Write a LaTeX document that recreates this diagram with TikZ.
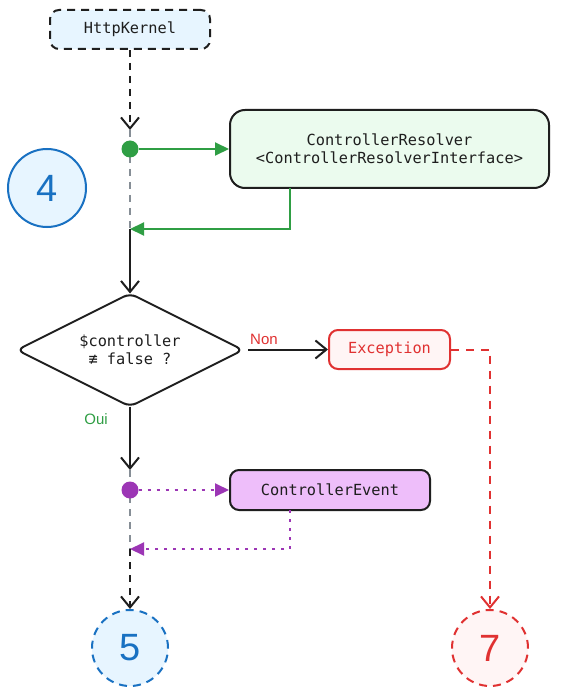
\documentclass[tikz,border=0pt]{standalone}
\usepackage{fontspec}
\setmainfont{Liberation Sans}
\newfontfamily\codefont{DejaVu Sans Mono}
\newfontfamily\digitfont{Liberation Sans}
\usetikzlibrary{arrows.meta,shapes.geometric}
\definecolor{kblue}{HTML}{1971C2}
\definecolor{kbluef}{HTML}{E7F5FF}
\definecolor{kgreen}{HTML}{2F9E44}
\definecolor{kgreenf}{HTML}{EBFBEE}
\definecolor{kred}{HTML}{E03131}
\definecolor{kredf}{HTML}{FFF5F5}
\definecolor{kpurple}{HTML}{9C36B5}
\definecolor{kpurplef}{HTML}{EEBEFA}
\definecolor{kink}{HTML}{1E1E1E}
\definecolor{kgray}{HTML}{868E96}
\tikzset{
  box/.style={draw=kink, line width=2pt, rounded corners=9pt, font=\codefont\fontsize{15.3}{18}\selectfont, text=kink, align=center},
  bigdigit/.style={circle, line width=2pt, minimum size=78pt, font=\digitfont\fontsize{38}{38}\selectfont},
  openarr/.style={-{Straight Barb[length=11pt,width=18pt,line width=2pt]}},
  fillarr/.style={-{Triangle[length=14pt,width=13pt]}},
  spine/.style={draw=kgray, line width=2pt, dash pattern=on 7pt off 6pt},
  dotnode/.style={circle, minimum size=17pt, inner sep=0pt},
  lbl/.style={font=\fontsize{15}{17}\selectfont},
  conn/.style={line width=2pt}
}
\begin{document}
\begin{tikzpicture}[x=1pt,y=-1pt]
\useasboundingbox[fill=white] (0,0) rectangle (560,700);

% nodes
\node[box, fill=kbluef, dash pattern=on 8pt off 6pt, minimum width=160pt, minimum height=39pt] (hk) at (130,29.5) {HttpKernel};
\node[box, fill=kgreenf, rounded corners=15pt, minimum width=319pt, minimum height=78pt] (cr) at (389.5,149) {ControllerResolver\\<ControllerResolverInterface>};
\node[bigdigit, draw=kblue, fill=kbluef, text=kblue] (c4) at (47,188) {4};
\node[diamond, aspect=2, draw=kink, line width=2pt, rounded corners=7pt, fill=white, minimum width=226pt, minimum height=113pt, inner sep=0pt, outer sep=0pt, font=\codefont\fontsize{15.3}{18}\selectfont, align=center, text=kink] (dia) at (130,350) {\$controller\\≢ false ?};
\node[box, draw=kred, fill=kredf, text=kred, minimum width=121pt, minimum height=39pt] (exc) at (389.5,349.5) {Exception};
\node[box, fill=kpurplef, minimum width=200pt, minimum height=40pt] (ce) at (330,490) {ControllerEvent};
\node[bigdigit, draw=kblue, fill=kbluef, text=kblue, dash pattern=on 8pt off 6pt, minimum size=76pt] (c5) at (130,648) {5};
\node[bigdigit, draw=kred, fill=kredf, text=kred, dash pattern=on 8pt off 6pt, minimum size=76pt] (c7) at (490,648) {7};

% coordinates on the spine
\coordinate (s1) at (130,130);
\coordinate (s2) at (130,229);
\coordinate (s3) at (130,470);
\coordinate (s4) at (130,549);
\coordinate (crb) at (290,188);
\coordinate (ceb) at (290,510);
\coordinate (ecorner) at (490,349.5);
\coordinate (de) at (248,349.5);

% spines
\draw[spine] (s1) -- (s2);
\draw[spine] (s3) -- (s4);

% dots
\node[dotnode, fill=kgreen] (gdot) at (130,149) {};
\node[dotnode, fill=kpurple] (pdot) at (130,490) {};

% connectors
\draw[kink, conn, dash pattern=on 7pt off 6pt, openarr] (hk.south) -- (s1);
\draw[kgreen, conn, fillarr] (gdot) -- (cr.west);
\draw[kgreen, conn, fillarr] (crb) |- (s2);
\draw[kink, conn, openarr] (s2) -- (dia.north);
\draw[kink, conn, openarr] (de) -- (exc.west);
\node[text=kred, lbl] (non) at (264,339) {Non};
\draw[kred, conn, dash pattern=on 8pt off 7pt, openarr] (exc.east) -- (ecorner) -- (c7.north);
\draw[kink, conn, openarr] (dia.south) -- (s3);
\node[text=kgreen, lbl] (oui) at (96,419) {Oui};
\draw[kpurple, conn, dash pattern=on 3pt off 6pt, fillarr] (pdot) -- (ce.west);
\draw[kpurple, conn, dash pattern=on 3pt off 6pt, fillarr] (ceb) |- (s4);
\draw[kink, conn, dash pattern=on 7pt off 6pt, openarr] (s4) -- (c5.north);
\end{tikzpicture}
\end{document}
